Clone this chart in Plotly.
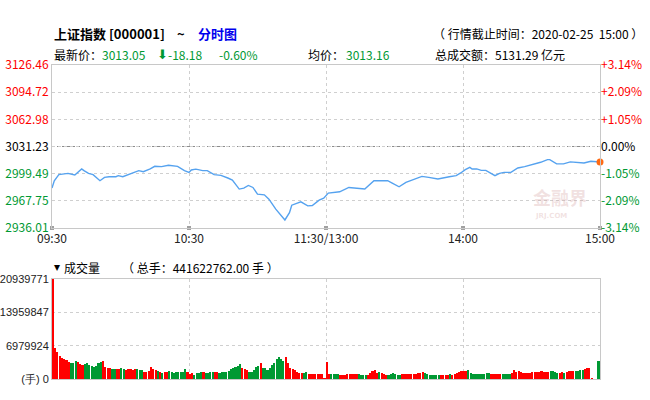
import plotly.graph_objects as go

# ---------------- data ----------------
price_ticks = [2936.01, 2967.75, 2999.49, 3031.23, 3062.98, 3094.72, 3126.46]
pct_labels = ["-3.14%", "-2.09%", "-1.05%", "0.00%", "+1.05%", "+2.09%", "+3.14%"]
prev_close = 3031.23
time_ticks = [0, 60, 120, 180, 240]
time_labels = ["09:30", "10:30", "11:30/13:00", "14:00", "15:00"]
vol_ticks = [0, 6979924, 13959847, 20939771]
vol_labels = ["(手) 0", "6979924", "13959847", "20939771"]

minutes = [0, 1, 3, 6, 7, 10, 13, 14, 16, 18, 21, 23, 25, 28, 29, 31, 34, 38, 40, 43,
           45, 48, 51, 55, 58, 60, 61, 63, 66, 68, 71, 74, 77, 79, 82, 84, 86, 88, 90, 93,
           95, 98, 102, 104, 105, 107, 109, 112, 114, 117, 119, 121, 123, 126, 130, 133, 137, 141, 147, 149,
           152, 155, 158, 162, 165, 169, 174, 177, 179, 181, 183, 184, 186, 188, 190, 193, 194, 196, 198, 201,
           204, 207, 210, 214, 217, 218, 221, 224, 227, 230, 233, 236, 240]
prices = [2982.68, 2991.26, 2998.31, 2999.14, 2999.84, 2997.96, 3005.01, 3003.02, 2999.84, 2998.31,
          2991.26, 2995.14, 2995.96, 2995.96, 2997.14, 2995.96, 2999.14, 3003.02, 3001.84, 3005.01,
          3008.07, 3007.72, 3009.25, 3008.07, 3003.02, 3001.02, 3003.84, 3004.78, 3003.02, 3003.02,
          2998.31, 2997.49, 2994.43, 2992.08, 2981.50, 2982.68, 2985.73, 2983.38, 2975.62, 2974.80,
          2969.75, 2957.99, 2945.41, 2953.99, 2962.69, 2964.57, 2966.57, 2961.87, 2962.22, 2968.57,
          2970.92, 2976.80, 2977.50, 2978.33, 2983.38, 2982.21, 2981.50, 2991.26, 2991.26, 2988.56,
          2984.21, 2989.26, 2992.08, 2996.31, 2995.14, 2993.26, 2995.96, 2997.14, 3000.31, 3004.19,
          3006.90, 3005.01, 3005.01, 3003.37, 3003.37, 2997.96, 2997.14, 2999.84, 3001.02, 3001.02,
          3006.19, 3007.72, 3009.72, 3012.77, 3015.95, 3015.95, 3010.89, 3010.89, 3013.24, 3012.42,
          3012.04, 3013.95, 3013.05]

# volume per minute, in millions of 手
volume_mil = [20.94, 6.56, 5.72, 4.82, 4.47, 4.19, 3.98, 3.56, 3.35, 3.35,
              3.70, 3.49, 3.07, 2.93, 3.07, 3.35, 3.00, 2.72, 2.60, 2.72,
              3.35, 3.50, 3.84, 2.58, 2.37, 2.37, 2.09, 2.09, 2.09, 2.09,
              2.20, 2.00, 1.90, 2.00, 2.00, 1.90, 2.00, 2.00, 1.90, 1.80,
              1.40, 1.50, 1.60, 2.50, 2.00, 1.90, 1.60, 1.50, 1.30, 1.50,
              1.50, 1.60, 1.40, 1.30, 1.40, 1.40, 1.40, 1.50, 2.00, 1.40,
              1.10, 1.20, 0.90, 1.30, 1.30, 1.40, 1.40, 1.20, 1.20, 1.40,
              1.40, 1.50, 1.50, 1.20, 1.40, 1.40, 1.50, 1.60, 2.00, 2.20,
              2.60, 2.80, 3.10, 2.40, 2.10, 1.90, 1.50, 1.50, 1.90, 2.60,
              2.70, 3.30, 2.30, 2.20, 1.90, 2.40, 2.90, 3.30, 4.10, 4.70,
              4.10, 3.80, 4.70, 3.30, 2.40, 2.10, 1.90, 1.50, 1.30, 1.30,
              1.30, 1.40, 1.05, 0.98, 0.98, 0.98, 1.05, 0.98, 0.98, 0.10,
              3.60, 1.10, 1.05, 0.98, 0.98, 0.98, 0.84, 0.84, 0.84, 0.98,
              1.05, 0.98, 0.98, 1.05, 0.98, 0.84, 0.77, 0.77, 0.77, 1.19,
              1.68, 1.88, 1.19, 1.40, 1.19, 1.05, 0.84, 0.91, 0.98, 1.19,
              0.98, 0.84, 0.91, 0.98, 0.98, 0.98, 1.05, 1.05, 1.12, 0.98,
              1.19, 1.19, 1.40, 1.19, 1.05, 0.84, 0.84, 0.84, 0.84, 0.84,
              0.84, 0.84, 0.84, 0.84, 0.98, 0.91, 1.05, 1.33, 1.54, 1.74,
              1.74, 1.68, 1.88, 1.19, 1.05, 1.05, 1.05, 0.98, 0.98, 1.05,
              1.33, 1.19, 1.05, 0.98, 0.98, 0.98, 0.98, 0.98, 0.98, 0.98,
              0.98, 1.33, 1.88, 1.54, 1.68, 1.54, 1.33, 1.33, 1.33, 1.33,
              1.40, 1.47, 1.47, 1.54, 1.68, 1.54, 1.54, 1.54, 1.74, 1.74,
              1.47, 1.33, 1.33, 1.40, 1.33, 1.54, 1.68, 1.68, 1.68, 1.74,
              1.74, 1.88, 1.88, 2.02, 2.23, 2.23, 0.10, 0.00, 0.00, 3.80,
              0.00]
volume_dir = list(
    "rrrrrrrr" "ggg" "rrr" "gggggggg" "rrrr" "gg" "rr" "gg" "rrrrr" "ggg"
    "rrrrrr" "g" "r" "g" "rr" "gggggggg" "rrr" "gggg" "r" "gggg" "rr"
    "gggggggggg" "rrr" "ggggg" "r" "gggggggggg" "rrrrrrrr" "gg" "rrrrrrrrrr"
    "gggg" "rrrrrrrr" "gggg" "rrrrr" "g" "rrr" "gggggg" "rrrrrrrrrr" "ggggggg"
    "rrrr" "g" "rrrrrrr" "gggggggggg" "rrrrr" "gggg" "rrrrrrrrrrrrrrrrr"
    "gggg" "rr" "g" "rrrr" "gggg" "rrrrrr" "g" "r")
vol_minutes = list(range(len(volume_mil)))

# ---------------- styling ----------------
RED = "#ff0000"
GREEN = "#009933"
BLUE_LINE = "#55a2ef"
GRID = "#cfcfcf"
FONT = "Noto Sans CJK SC, Noto Sans, sans-serif"
NUMFONT = "Liberation Sans, Arial, sans-serif"
W, H = 650, 400
X0, X1 = 52, 600
NB = "\u00a0"


def px(x):
    return x / W


def py(y):
    return 1 - y / H


def color_price(v):
    if abs(v - prev_close) < 1e-6:
        return "#000000"
    return RED if v > prev_close else GREEN


left_text = [f"<span style='color:{color_price(v)}'>{v:.2f}</span>" for v in price_ticks]
right_text = [f"<span style='color:{color_price(v)}'>{t}</span>" for v, t in zip(price_ticks, pct_labels)]

fig = go.Figure()

# price line
fig.add_trace(go.Scatter(x=minutes, y=prices, mode="lines",
                         line=dict(color=BLUE_LINE, width=1.4),
                         xaxis="x", yaxis="y", hoverinfo="skip", showlegend=False))
# invisible trace to activate right axis
fig.add_trace(go.Scatter(x=minutes, y=prices, mode="lines", line=dict(width=0),
                         opacity=0, xaxis="x", yaxis="y3", hoverinfo="skip", showlegend=False))
# last point marker
fig.add_trace(go.Scatter(x=[minutes[-1]], y=[prices[-1]], mode="markers",
                         marker=dict(color="#ff6a13", size=7),
                         xaxis="x", yaxis="y", cliponaxis=False, hoverinfo="skip", showlegend=False))
# tick squares on time axis
fig.add_trace(go.Scatter(x=time_ticks, y=[price_ticks[0]] * len(time_ticks), mode="markers",
                         marker=dict(color="#a0a0a0", size=4, symbol="square"),
                         xaxis="x", yaxis="y", cliponaxis=False, hoverinfo="skip", showlegend=False))

# volume bars
bar_colors = [RED if d == "r" else GREEN for d in volume_dir]
fig.add_trace(go.Bar(x=vol_minutes, y=[v * 1e6 for v in volume_mil],
                     marker=dict(color=bar_colors, line=dict(width=0)),
                     width=0.7, offset=0.12,
                     xaxis="x2", yaxis="y2", hoverinfo="skip", showlegend=False))

xdom = [px(X0), px(X1)]
axis_common = dict(showline=True, mirror=True, linecolor="#c8c8c8", linewidth=1,
                   zeroline=False, fixedrange=True)

fig.update_layout(
    width=W, height=H,
    margin=dict(l=0, r=0, t=0, b=0),
    paper_bgcolor="white", plot_bgcolor="white",
    font=dict(family=FONT, size=12, color="#000"),
    bargap=0,
    xaxis=dict(domain=xdom, range=[0, 240], anchor="y", tickvals=time_ticks, ticktext=time_labels,
               showgrid=True, gridcolor=GRID, griddash="3px,3px", ticks="", automargin=False,
               tickfont=dict(size=12, color="#222"), **axis_common),
    yaxis=dict(domain=[py(228), py(65)], range=[price_ticks[0], price_ticks[-1]], anchor="x",
               tickvals=price_ticks, ticktext=left_text, showgrid=True, gridcolor=GRID,
               griddash="3px,3px", ticks="", automargin=False, tickfont=dict(size=12), **axis_common),
    yaxis3=dict(overlaying="y", side="right", anchor="x", range=[price_ticks[0], price_ticks[-1]],
                tickvals=price_ticks, ticktext=right_text, showgrid=False, ticks="",
                automargin=False, tickfont=dict(size=12), zeroline=False, fixedrange=True),
    xaxis2=dict(domain=xdom, range=[0, 240], anchor="y2", tickvals=time_ticks[1:-1],
                showticklabels=False, showgrid=True, gridcolor=GRID, griddash="3px,3px",
                ticks="", automargin=False, **axis_common),
    yaxis2=dict(domain=[py(379), py(279)], range=[0, vol_ticks[-1]], anchor="x2",
                tickvals=vol_ticks, ticktext=vol_labels, showgrid=True, gridcolor=GRID,
                griddash="3px,3px", ticks="", automargin=False,
                tickfont=dict(size=11, color="#222", family=NUMFONT), **axis_common),
)

# previous-close reference line (darker dashed)
fig.add_shape(type="line", xref="x", yref="y", x0=0, x1=240, y0=prev_close, y1=prev_close,
              line=dict(color="#8c8c8c", width=1, dash="3px,2px"), layer="below")

ann = []


def text(x, y, s, color="#000", size=12, bold=False, anchor="left", family=FONT):
    if bold:
        s = f"<b>{s}</b>"
    ann.append(dict(x=px(x), y=py(y), xref="paper", yref="paper", text=s, showarrow=False,
                    xanchor=anchor, yanchor="middle", font=dict(color=color, size=size, family=family)))


# header
text(52, 34, "上证指数 [000001]", size=13, bold=True)
text(175, 34, "~", size=13, bold=True)
text(196, 34, "<span style='color:#0000ee'>分时图</span>", size=13, bold=True)
text(645, 34, f"（{NB}行情截止时间：2020-02-25{NB}{NB}15:00{NB}）", size=12, anchor="right")
text(52, 54, "最新价：", size=12)
text(100, 54, "3013.05", color=GREEN)
text(155, 54, "⬇", color=GREEN, size=13, family="DejaVu Sans")
text(166, 54, "-18.18", color=GREEN)
text(217, 54, "-0.60%", color=GREEN)
text(306, 54, "均价：")
text(344, 54, "3013.16", color=GREEN)
text(433, 54, "总成交额：5131.29 亿元")

# volume title
text(52, 267, "▾", size=12, family="DejaVu Sans")
text(62, 267, "成交量")
text(120, 267, f"（{NB}总手：441622762.00{NB}手{NB}）")

# watermark
text(560, 197, "金融界", color="rgba(215,170,170,0.35)", size=18, bold=True, anchor="center")
text(551, 216, "JRJ.COM", color="rgba(215,170,170,0.35)", size=7, bold=True, anchor="center",
     family="DejaVu Sans")

fig.update_layout(annotations=ann)

fig.write_html("out.html")
